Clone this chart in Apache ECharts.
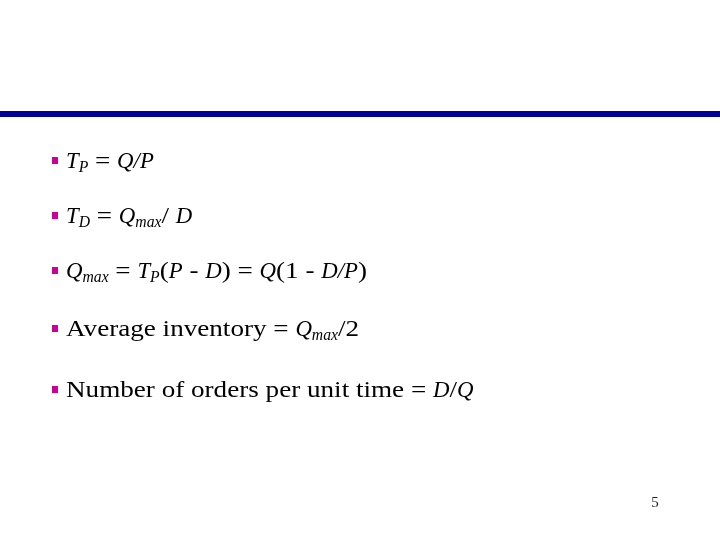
<!DOCTYPE html>
<html><head><meta charset="utf-8">
<script src="https://cdn.jsdelivr.net/npm/echarts@6/dist/echarts.min.js"></script>
<style>html,body{margin:0;padding:0;background:#fff}#c{width:720px;height:540px}</style>
</head><body><div id="c"></div>
<script>
// Segments: [text, style] where style: r=regular, i=italic, s=italic subscript
const line1 = [["T","i"],["P","s"],[" = ","r"],["Q/P","i"]];
const line2 = [["T","i"],["D","s"],[" = ","r"],["Q","i"],["max","s"],["/ ","r"],["D","i"]];
const line3 = [["Q","i"],["max","s"],[" = ","r"],["T","i"],["P","s"],["(","r"],["P","i"],[" - ","r"],["D","i"],[") = ","r"],["Q","i"],["(1 - ","r"],["D/P","i"],[")","r"]];
const line4 = [["Average inventory = ","r"],["Q","i"],["max","s"],["/2","r"]];
const line5 = [["Number of orders per unit time = ","r"],["D","i"],["/","r"],["Q","i"]];
const bulletLines = [line1, line2, line3, line4, line5];
const baselines = [168, 223, 278, 336, 397];
const pageNumber = "5";

const FAMILY = "'Liberation Serif', serif";
const F = 24, FS = 16, SUBDROP = 4;
const X0 = 66;
const SCALE = {r: 1.13, i: 0.95, s: 0.98};

const cv = document.createElement('canvas');
const ctx = cv.getContext('2d');
function fontFor(st){
  if (st === 'r') return F + 'px ' + FAMILY;
  if (st === 'i') return 'italic ' + F + 'px ' + FAMILY;
  return 'italic ' + FS + 'px ' + FAMILY;
}
function midOffset(font){
  ctx.font = font; ctx.textBaseline = 'middle';
  return ctx.measureText('H').actualBoundingBoxDescent;
}
const graphics = [];
graphics.push({type:'rect', shape:{x:0,y:111,width:720,height:6}, style:{fill:'#000099'}});
bulletLines.forEach((segs, li) => {
  const base = baselines[li];
  graphics.push({type:'rect', shape:{x:52,y:base-11,width:6,height:7}, style:{fill:'#cc0099'}});
  let x = X0;
  segs.forEach(([t, st]) => {
    const font = fontFor(st);
    ctx.font = font; ctx.textBaseline = 'alphabetic';
    const w = ctx.measureText(t).width * SCALE[st];
    const b = base + (st === 's' ? SUBDROP : 0);
    graphics.push({type:'text', x: x, y: b - midOffset(font), scaleX: SCALE[st],
      style:{text:t, font:font, fill:'#000', textAlign:'left', verticalAlign:'middle'}});
    x += w;
  });
});
graphics.push({type:'text', x:655, y:503, style:{text:pageNumber, font:'15px '+FAMILY, fill:'#222', textAlign:'center', verticalAlign:'middle'}});

const chart = echarts.init(document.getElementById('c'));
chart.setOption({backgroundColor:'#fff', animation:false, graphic: graphics});
</script></body></html>
